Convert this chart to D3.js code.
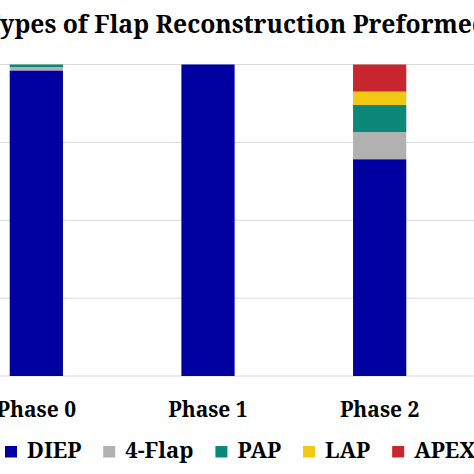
<!DOCTYPE html>
<html>
<head>
<meta charset="utf-8">
<script src="https://cdn.jsdelivr.net/npm/d3@7"></script>
<style>
    html, body { margin: 0; padding: 0; background: #fff; overflow: hidden; }
</style>
</head>
<body>
<div id="chart"></div>
<script>
// data (percent of flaps per phase)
let phases = ["Phase 0", "Phase 1", "Phase 2"];
let flapTypes = ["DIEP", "4-Flap", "PAP", "LAP", "APEX"];
let diepValues = [98.1, 100, 69.6];
let fourFlapValues = [1.1, 0, 8.7];
let papValues = [0.8, 0, 8.7];
let lapValues = [0, 0, 4.3];
let apexValues = [0, 0, 8.7];
let flapColors = ["#0000a0", "#b1b1b1", "#0b8877", "#f1c915", "#c8262d"];
let yTicks = [0, 25, 50, 75, 100];
let titleText = "Types of Flap Reconstruction Preformed";

// table for d3.stack
let seriesValues = [diepValues, fourFlapValues, papValues, lapValues, apexValues];
let table = phases.map((p, i) => {
    let row = {phase: p};
    flapTypes.forEach((t, j) => { row[t] = seriesValues[j][i]; });
    return row;
});

let width = 474, height = 474;
let fontFam = "Noto Serif";

let svg = d3.select("#chart").append("svg")
    .attr("width", width)
    .attr("height", height);

// stretch a text horizontally (stand-in for the wider Palatino-like face)
function widen(sel, k) {
    sel.each(function () {
        let w = this.getComputedTextLength();
        d3.select(this).attr("textLength", w * k).attr("lengthAdjust", "spacingAndGlyphs");
    });
}

// scales - the chart is cropped on both sides in the reference
let x = d3.scaleBand()
    .domain(phases)
    .range([-49.5, 465.5])
    .paddingInner(0.69)
    .paddingOuter(0.345);

let y = d3.scaleLinear()
    .domain([0, 100])
    .range([376, 64.5]);

// gridlines
svg.append("g")
    .attr("class", "grid")
    .selectAll("line")
    .data(yTicks)
    .enter().append("line")
    .attr("x1", 0)
    .attr("x2", width)
    .attr("y1", d => y(d))
    .attr("y2", d => y(d))
    .attr("stroke", "#d9d9d9")
    .attr("stroke-width", 1);

// stacked bars
let layers = d3.stack().keys(flapTypes)(table);

svg.append("g")
    .selectAll("g")
    .data(layers)
    .enter().append("g")
    .attr("fill", (d, i) => flapColors[i])
    .selectAll("rect")
    .data(d => d)
    .enter().append("rect")
    .attr("x", d => x(d.data.phase))
    .attr("width", x.bandwidth())
    .attr("y", d => y(d[1]))
    .attr("height", d => y(d[0]) - y(d[1]));

// category labels
svg.append("g")
    .selectAll("text")
    .data(phases)
    .enter().append("text")
    .attr("x", d => x(d) + x.bandwidth() / 2)
    .attr("y", 417)
    .attr("text-anchor", "middle")
    .attr("font-family", fontFam)
    .attr("font-weight", "bold")
    .attr("font-size", 21)
    .text(d => d);

// title
svg.append("text")
    .attr("x", -16)
    .attr("y", 32.5)
    .attr("font-family", fontFam)
    .attr("font-weight", "bold")
    .attr("font-size", 25)
    .attr("textLength", 504)
    .attr("lengthAdjust", "spacingAndGlyphs")
    .text(titleText);

// legend
let legend = svg.append("g").attr("class", "legend");
let lx = 5;
flapTypes.forEach((t, i) => {
    legend.append("rect")
        .attr("x", lx)
        .attr("y", 446)
        .attr("width", 12)
        .attr("height", 11.5)
        .attr("fill", flapColors[i]);
    let label = legend.append("text")
        .attr("x", lx + 22)
        .attr("y", 457.5)
        .attr("font-family", fontFam)
        .attr("font-weight", "bold")
        .attr("font-size", 21)
        .text(t);
    let w = label.node().getComputedTextLength() * 1.05;
    widen(label, 1.05);
    lx += 22 + w + 22;
});
</script>
</body>
</html>
